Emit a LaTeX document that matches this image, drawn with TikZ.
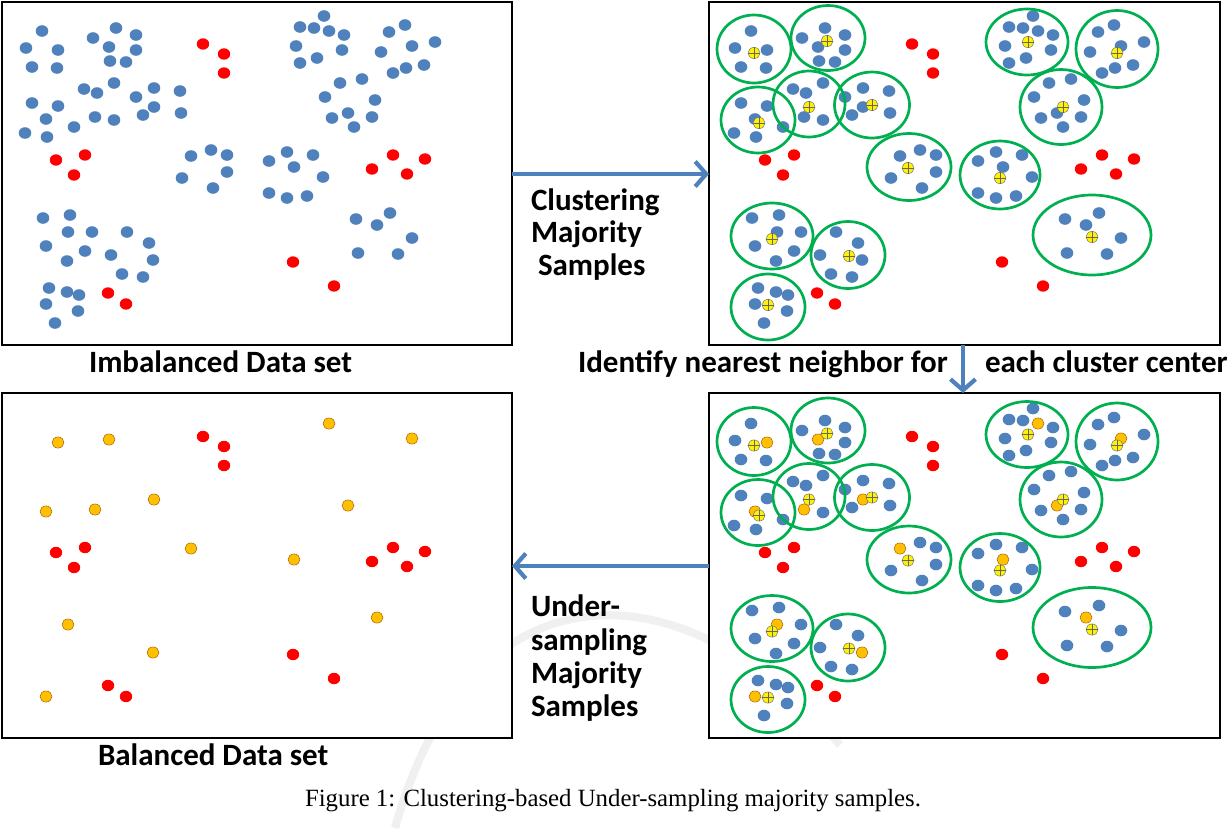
\documentclass[tikz,border=0pt]{standalone}
\usepackage{fontspec}
\setmainfont{Liberation Serif}
\newfontfamily\cfont{Carlito}
\usetikzlibrary{arrows.meta}
\definecolor{dotblue}{HTML}{4F81BD}
\definecolor{dotred}{HTML}{FF0000}
\definecolor{dotorange}{HTML}{FFC000}
\definecolor{ringgreen}{HTML}{00B050}
\definecolor{arrowblue}{HTML}{4F81BD}
\newcommand\bluelist{42/31,26/48,32/67,57/68,93/38,116/28,136/35,136/50,110/61,126/62,84/89,97/93,114/83,136/97,154/88,180/91,32/103,58/106,114/120,143/115,181/113,74/127,25/133,47/137,211/150,227/155,182/178,227/172,213/188,43/218,70/215,92/232,127/232,46/246,85/251,67/261,111/255,149/243,122/274,143/277,49/288,67/292,79/295,78/311,55/323,324/16,300/27,314/28,344/35,296/46,342/50,300/63,317/58,389/32,405/25,435/42,381/52,393/73,406/68,424/65,340/83,362/79,325/97,375/100,332/118,372/117,354/127,269/161,287/152,313/155,323/177,269/193,287/198,307/196,356/219,390/213,412/238,358/253,398/254}
\newcommand\nnlist{58/50,109/47,46/119,95/117,154/107,191/156,68/232,153/260,46/304,329/31,412/46,348/113,294/167,377/225}
\newcommand\redlist{203/44,224/54,224/73,56/160,85/155,74/175,108/293,126/304,393/155,425/159,372/169,407/174,293/262,334/286}
\newcommand\centerlist{45/53,118/41,50/123,100/107,163/105,199/168,63/239,140/256,59/305,319/42,408/53,354/107,291/178,383/237}
\newcommand\ringlist{45/49/37/34,119/38/37/32.5,49/120/37/33,100/104/36/33,163/105/37.5/33,200/167/42/33.5,63/236/41/33,139/255/37/33.5,59/307/37/33,318/42/41/33,408/49/41/38.5,352/107/41/37.5,291/175/40/34,383/235/59/40}
\tikzset{
  panel/.style={draw=black, line width=1.4pt, fill=white, inner sep=0pt, outer sep=0pt, anchor=north west},
  lbl/.style={font=\cfont\bfseries\fontsize{31}{35}\selectfont, inner sep=0pt, outer sep=0pt, text=black},
  flow/.style={draw=arrowblue, line width=4.2pt, -{Straight Barb[length=11pt,width=25pt]}},
  ring/.style={draw=ringgreen, line width=2.7pt},
}
\newcommand\bluedots[1]{\foreach \x/\y in #1{\fill[dotblue] (\x,\y) ellipse [x radius=6.3pt, y radius=5.8pt];}}
\newcommand\reddots{\foreach \x/\y in \redlist{\fill[dotred] (\x,\y) ellipse [x radius=6.2pt, y radius=5.7pt];}}
\newcommand\orangedots{\foreach \x/\y in \nnlist{\filldraw[fill=dotorange, draw=orange!60!black, line width=0.4pt] (\x,\y) ellipse [x radius=6pt, y radius=5.6pt];}}
\newcommand\rings{\foreach \x/\y/\a/\b in \ringlist{\draw[ring] (\x,\y) ellipse [x radius=\a pt, y radius=\b pt];}}
\newcommand\centers{\foreach \x/\y in \centerlist{\filldraw[fill=yellow, draw=black!55, line width=0.5pt] (\x,\y) ellipse [x radius=6pt, y radius=5.6pt];
  \draw[black!60, line width=0.7pt] (\x-6,\y) -- (\x+6,\y) (\x,\y-5.6) -- (\x,\y+5.6);}}
\begin{document}
\begin{tikzpicture}[x=1pt,y=-1pt]
\useasboundingbox[fill=white] (0,0) rectangle (1230,828);
% watermark
\draw[black!6, line width=8pt] (395,828) .. controls (470,560) and (680,560) .. (840,745);
% panels
\node[panel, minimum width=510pt, minimum height=343pt] (p1) at (2,2) {};
\node[panel, minimum width=511pt, minimum height=343pt] (p2) at (709,2) {};
\node[panel, minimum width=511pt, minimum height=345pt] (p3) at (709,393) {};
\node[panel, minimum width=510pt, minimum height=345pt] (p4) at (2,393) {};
% panel 1: imbalanced data
\bluedots\bluelist\bluedots\nnlist\reddots
% panel 2: clusters
\begin{scope}[shift={(709,0)}]
\bluedots\bluelist\bluedots\nnlist\reddots\rings\centers
\end{scope}
% panel 3: nearest neighbours
\begin{scope}[shift={(709,392.5)}]
\bluedots\bluelist\orangedots\reddots\rings\centers
\end{scope}
% panel 4: balanced data
\begin{scope}[shift={(0,392.5)}]
\orangedots\reddots
\end{scope}
% arrows
\coordinate (ya) at (0,174);
\coordinate (yc) at (0,566);
\coordinate (xb) at (963,0);
\draw[flow] (p1.east |- ya) -- (p2.west |- ya);
\draw[flow] (p2.south -| xb) -- (p3.north -| xb);
\draw[flow] (p3.west |- yc) -- (p4.east |- yc);
% labels
\node[lbl, anchor=base west] (c1) at (531,210.5) {Clustering};
\node[lbl, anchor=base west] (c2) at (531,242.5) {Majority};
\node[lbl, anchor=base west] (c3) at (538,275) {Samples};
\node[lbl, anchor=base west] (im) at (89,372) {Imbalanced Data set};
\node[lbl, anchor=base west] (id1) at (578,372) {Identify nearest neighbor for};
\node[lbl, anchor=base west] (id2) at (985,372) {each cluster center};
\node[lbl, anchor=base west] (u1) at (531,616.5) {Under-};
\node[lbl, anchor=base west] (u2) at (531,650) {sampling};
\node[lbl, anchor=base west] (u3) at (531,683) {Majority};
\node[lbl, anchor=base west] (u4) at (531,716) {Samples};
\node[lbl, anchor=base west] (bal) at (98,765) {Balanced Data set};
\node[font=\fontsize{24.8}{28}\selectfont, inner sep=0pt, anchor=base] (cap) at (613,806) {Figure 1: Clustering-based Under-sampling majority samples.};
\end{tikzpicture}
\end{document}
